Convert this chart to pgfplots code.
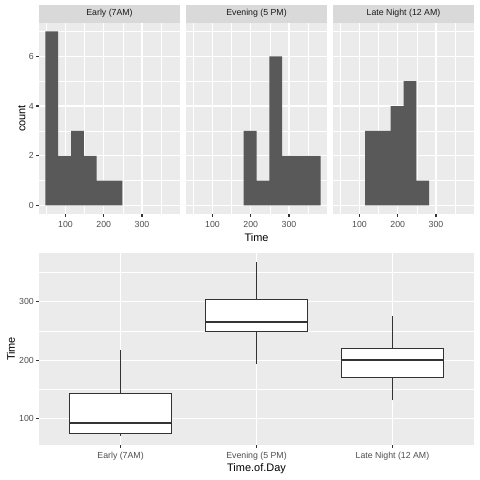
\documentclass[border=0pt]{standalone}
\usepackage{fontspec}
\setmainfont{Liberation Sans}
\usepackage{pgfplots}
\pgfplotsset{compat=1.18}
\definecolor{panelbg}{HTML}{EBEBEB}
\definecolor{stripbg}{HTML}{D9D9D9}
\definecolor{barfill}{HTML}{595959}
\definecolor{tickcol}{HTML}{4D4D4D}
\definecolor{darkline}{HTML}{333333}
\definecolor{striptxt}{HTML}{1A1A1A}
\pgfplotsset{
  gg/.style={
    scale only axis,
    axis background/.style={fill=panelbg},
    axis line style={draw=none},
    tick align=outside,
    tick pos=left,
    major tick length=2.75bp,
    minor tick length=0pt,
    tick style={color=darkline, line width=1.07bp},
    minor tick style={draw=none},
    major grid style={white, line width=1.07bp},
    minor grid style={white, line width=0.53bp},
    tick label style={font=\fontsize{8.8}{10}\selectfont, text=tickcol},
    /pgf/number format/assume math mode=true,
    xticklabel style={inner sep=0pt, yshift=-4.5bp, anchor=north},
    yticklabel style={inner sep=0pt, xshift=-2.2bp, anchor=east},
  },
  hist/.style={
    gg, grid=both,
    width=141bp, height=191.5bp,
    xmin=30.75, xmax=399.25,
    ymin=-0.35, ymax=7.35,
    xtick={100,200,300},
    minor xtick={50,150,250,350},
    ytick={0,2,4,6},
    minor ytick={1,3,5,7},
    every axis title/.style={at={(0.5,1)}, anchor=south, fill=stripbg, text=striptxt,
      minimum width=141bp, minimum height=17.7bp, inner sep=0pt,
      font=\fontsize{8.8}{10}\selectfont},
  },
  boxline/.style={draw=darkline, line width=1.07bp, mark=none},
}
\begin{document}
\begin{tikzpicture}
\path[use as bounding box] (0,0) rectangle (480bp,-480bp);

\begin{axis}[hist, at={(39bp,-22.7bp)}, anchor=north west, title={Early (7AM)}]
\addplot[ybar interval, fill=barfill, draw=none] coordinates {
(47.5,7) (81,2) (114.5,3) (148,2) (181.5,1) (215,1) (248.5,0)};
\end{axis}

\begin{axis}[hist, at={(186bp,-22.7bp)}, anchor=north west, title={Evening (5 PM)},
  yticklabels={}, y tick style={draw=none}]
\addplot[ybar interval, fill=barfill, draw=none] coordinates {
(181.5,3) (215,1) (248.5,6) (282,2) (315.5,2) (349,2) (382.5,0)};
\end{axis}

\begin{axis}[hist, at={(333bp,-22.7bp)}, anchor=north west, title={Late Night (12 AM)},
  yticklabels={}, y tick style={draw=none}]
\addplot[ybar interval, fill=barfill, draw=none] coordinates {
(114.5,3) (148,3) (181.5,4) (215,5) (248.5,1) (282,0)};
\end{axis}

\node[rotate=90, font=\fontsize{11}{13}\selectfont] at (22bp,-118.5bp) {count};
\node[font=\fontsize{11}{13}\selectfont] at (256.5bp,-237.5bp) {Time};

\begin{axis}[gg, at={(39bp,-252.7bp)}, anchor=north west,
  width=435bp, height=192.3bp,
  xmin=0.4, xmax=3.6, ymin=55, ymax=384,
  xtick={1,2,3},
  xticklabels={Early (7AM), Evening (5 PM), Late Night (12 AM)},
  ytick={100,200,300},
  minor ytick={150,250,350},
  xmajorgrids=true, ymajorgrids=true, yminorgrids=true,
]
% Early (7AM): whiskers 71 / 217.5, box 75-143.5, median 93
\addplot[boxline] coordinates {(1,71) (1,75)};
\addplot[boxline] coordinates {(1,143.5) (1,217.5)};
\addplot[boxline, fill=white] coordinates {(0.625,75) (1.375,75) (1.375,143.5) (0.625,143.5)} -- cycle;
\addplot[boxline, line width=2.13bp] coordinates {(0.625,93) (1.375,93)};
% Evening (5 PM): whiskers 193 / 368.5, box 249.5-304, median 265.5
\addplot[boxline] coordinates {(2,193) (2,249.5)};
\addplot[boxline] coordinates {(2,304) (2,368.5)};
\addplot[boxline, fill=white] coordinates {(1.625,249.5) (2.375,249.5) (2.375,304) (1.625,304)} -- cycle;
\addplot[boxline, line width=2.13bp] coordinates {(1.625,265.5) (2.375,265.5)};
% Late Night (12 AM): whiskers 131.5 / 275, box 170-219.5, median 201
\addplot[boxline] coordinates {(3,131.5) (3,170)};
\addplot[boxline] coordinates {(3,219.5) (3,275)};
\addplot[boxline, fill=white] coordinates {(2.625,170) (3.375,170) (3.375,219.5) (2.625,219.5)} -- cycle;
\addplot[boxline, line width=2.13bp] coordinates {(2.625,201) (3.375,201)};
\end{axis}

\node[rotate=90, font=\fontsize{11}{13}\selectfont] at (11bp,-349bp) {Time};
\node[font=\fontsize{11}{13}\selectfont] at (256.5bp,-468.5bp) {Time.of.Day};
\end{tikzpicture}
\end{document}
